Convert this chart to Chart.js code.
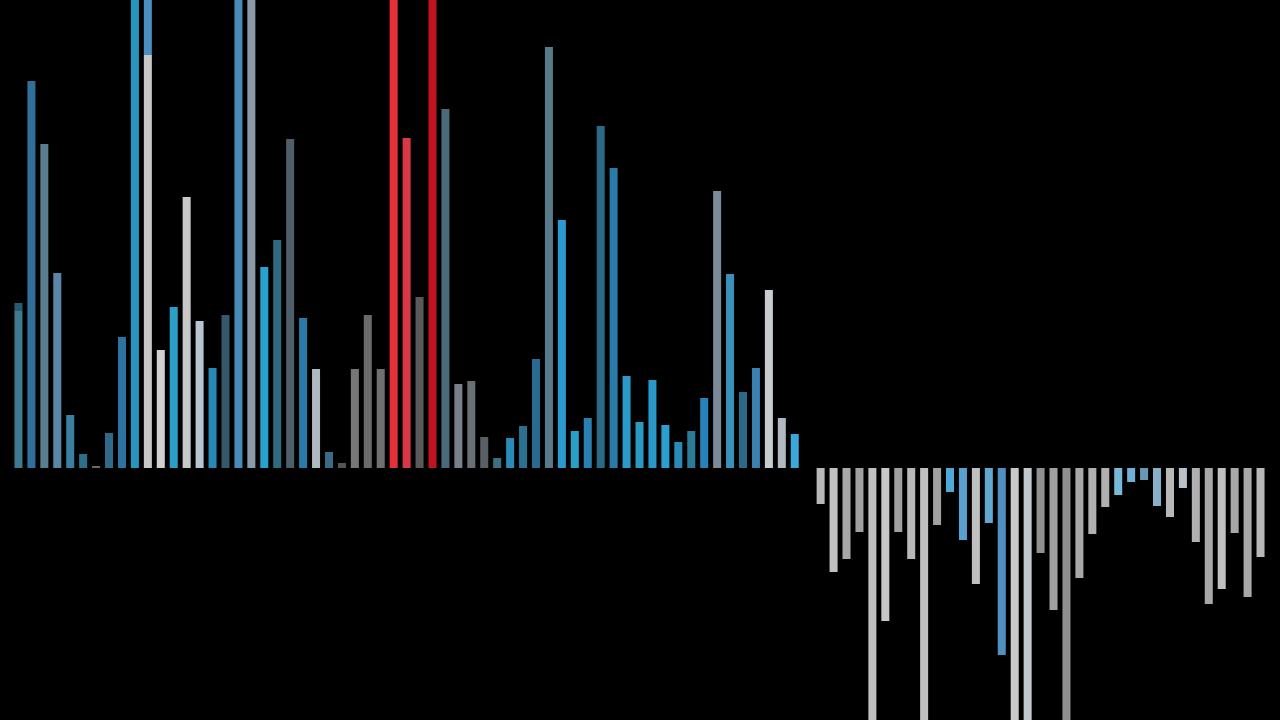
<!DOCTYPE html>
<html>
<head>
<meta charset="utf-8">
<script src="https://cdn.jsdelivr.net/npm/chart.js@4/dist/chart.umd.min.js"></script>
<style>
  html, body { margin: 0; padding: 0; background: #000; }
  #wrap { position: relative; width: 1280px; height: 720px; }
</style>
</head>
<body>
<div id="wrap"><canvas id="bars"></canvas></div>
<script>
/*---------- Data ----------------*/
// 61 rising bars, one empty slot, 35 falling bars
const values = [
  157, 387, 324, 195, 53, 14, 2, 35, 131, 520,
  413, 118, 161, 271, 147, 100, 153, 520, 520, 201,
  228, 329, 150, 99, 16, 5, 99, 153, 99, 520,
  330, 171, 520, 359, 84, 87, 31, 10, 30, 42,
  109, 421, 248, 37, 50, 342, 300, 92, 46, 88,
  43, 26, 37, 70, 277, 194, 76, 100, 178, 50,
  34, null,
  -36, -104, -91, -64, -300, -153, -64, -91, -300, -57,
  -24, -72, -116, -55, -187, -300, -300, -85, -142, -300,
  -110, -66, -39, -27, -14, -12, -38, -49, -20, -74,
  -136, -121, -65, -129, -89
];
// caps drawn on top of a couple of bars (second stacked layer)
const caps = values.map(() => null);
caps[0] = 8;
caps[10] = 200;

const labels = values.map((v, i) => String(i + 1));

const barColors = [
  "#3d7a8f", "#2f6f9a", "#5a7d90", "#5a87a8", "#3a7fa0", "#2d6f8a", "#666a6e", "#2f6a8a", "#2d72a0", "#2596be",
  "#c8c8c8", "#d0d0d0", "#2aa0c8", "#c8c8c8", "#b8c4d0", "#2888b8", "#35586a", "#4a8ab8", "#8a9aa8", "#2aa0d0",
  "#2f6a80", "#4f5f6a", "#2a7aa8", "#b0b8c0", "#3a6a85", "#555555", "#777777", "#6a6a6a", "#707070", "#e3303a",
  "#d83848", "#5a5a5a", "#c0141e", "#4a6a7a", "#7a808a", "#6a6e75", "#5a5e65", "#3a7080", "#2a8ab8", "#2a7090",
  "#2a6a90", "#5a7a8a", "#2a9ad0", "#2aa0c8", "#2a80b0", "#2a6a85", "#2a7aaa", "#2a9ac8", "#2a9ac0", "#2a98c8",
  "#2aa0d0", "#2a8ab8", "#2a7a98", "#2a80b8", "#7a8a98", "#3a90b8", "#2a6a88", "#3a80b0", "#c8ccd0", "#b0b8c0",
  "#3aa8d8", "#000000",
  "#b8b8b8", "#c0c0c0", "#a8a8a8", "#a0a0a0", "#c0c0c0", "#c8c8c8", "#a0a0a0", "#b8b8b8", "#c0c0c0", "#a0a0a0",
  "#50a8d8", "#58a0d0", "#c0c0c0", "#60a8d0", "#5090c0", "#c8c8c8", "#c0c8d0", "#909090", "#a0a0a0", "#909090",
  "#a8a8a8", "#b0b0b0", "#b0b0b0", "#78b8d8", "#70b0d8", "#6a98b0", "#88b0c8", "#b8b8b8", "#b8c0c8", "#b0b0b0",
  "#a8a8a8", "#c0c0c0", "#a8a8a8", "#a8a8a8", "#b8b8b8"
];
const capColors = values.map(() => "#000000");
capColors[0] = "#2a5a70";
capColors[10] = "#4a8fc0";

/*-----------Chart---------------*/
const barsChart = new Chart(document.getElementById("bars"), {
  type: "bar",
  data: {
    labels: labels,
    datasets: [
      {
        data: values,
        backgroundColor: barColors,
        borderWidth: 0,
        barPercentage: 0.62,
        categoryPercentage: 1,
      },
      {
        data: caps,
        backgroundColor: capColors,
        borderWidth: 0,
        barPercentage: 0.62,
        categoryPercentage: 1,
      },
    ],
  },
  options: {
    responsive: true,
    maintainAspectRatio: false,
    animation: false,
    layout: { padding: { left: 12, right: 13, top: 0, bottom: 0 } },
    plugins: {
      legend: { display: false },
      tooltip: { enabled: false },
    },
    scales: {
      x: {
        display: false,
        stacked: true,
      },
      y: {
        display: false,
        stacked: true,
        min: -252,
        max: 468,
      },
    },
  },
});
</script>
</body>
</html>
